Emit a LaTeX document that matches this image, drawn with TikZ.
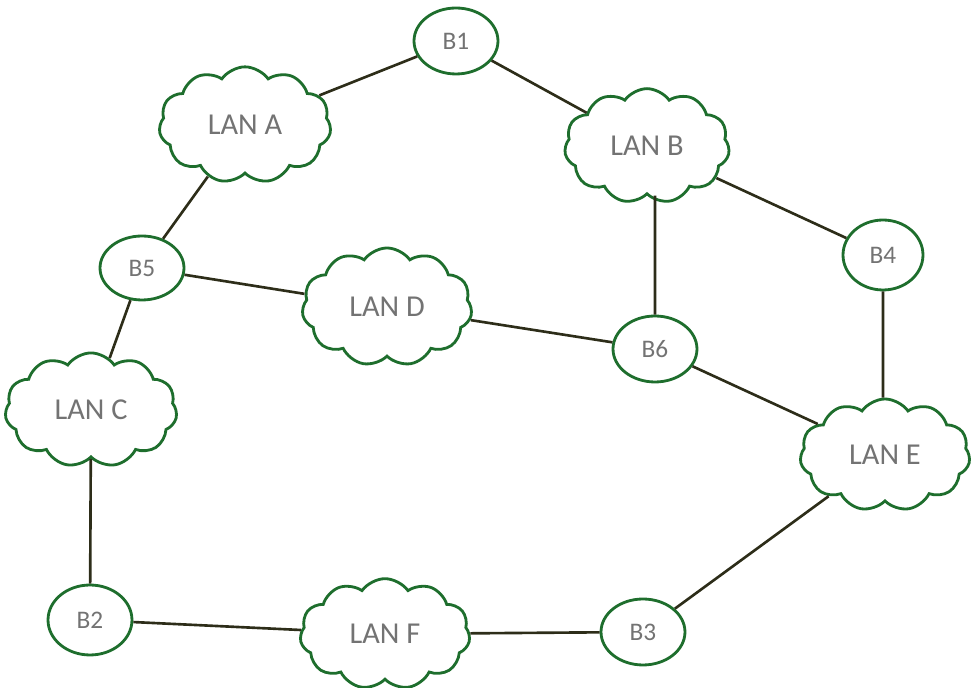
\documentclass[tikz,border=0pt]{standalone}
\usepackage{fontspec}
\setmainfont{Carlito}
\usetikzlibrary{shapes.symbols,shapes.geometric}
\definecolor{bord}{RGB}{30,110,45}
\definecolor{edg}{RGB}{45,45,25}
\begin{document}
\begin{tikzpicture}[x=0.02cm,y=-0.02cm,
 br/.style={ellipse,draw=bord,line width=1.6pt,fill=white,inner sep=0,font=\Large,text=gray!90!black},
 lan/.style={cloud,cloud puffs=11,cloud puff arc=110,draw=bord,line width=1.6pt,fill=white,inner sep=0,font=\LARGE,text=gray!90!black},
 ln/.style={draw=edg,line width=1.5pt}]
\useasboundingbox (0,0) rectangle (975,688);
\node[br,minimum width=1.68cm,minimum height=1.32cm] (B1) at (456,41) {B1};
\node[br,minimum width=1.68cm,minimum height=1.28cm] (B5) at (142,268) {B5};
\node[br,minimum width=1.6cm,minimum height=1.4cm] (B4) at (883,255) {B4};
\node[br,minimum width=1.68cm,minimum height=1.32cm] (B6) at (655,349) {B6};
\node[br,minimum width=1.68cm,minimum height=1.4cm] (B2) at (90,620) {B2};
\node[br,minimum width=1.68cm,minimum height=1.32cm] (B3) at (643,632) {B3};
\node[lan,minimum width=3.44cm,minimum height=1.8cm] (A) at (245,125) {LAN A};
\node[lan,minimum width=3.3cm,minimum height=1.84cm] (LB) at (647,146) {LAN B};
\node[lan,minimum width=3.4cm,minimum height=1.8cm] (D) at (387,307) {LAN D};
\node[lan,minimum width=3.44cm,minimum height=1.8cm] (C) at (91,410) {LAN C};
\node[lan,minimum width=3.4cm,minimum height=1.9cm] (E) at (885,455) {LAN E};
\node[lan,minimum width=3.4cm,minimum height=1.8cm] (F) at (385,634) {LAN F};
\path[ln] (B1) -- (A) (B1) -- (LB) (A) -- (B5) (B5) -- (D) (D) -- (B6)
 (LB.south -| B6) -- (B6) (LB) -- (B4) (B4.south) -- (B4.south |- E.north) (B6) -- (E)
 (B5) -- (C) (C) -- (B2) (B2) -- (F) (F) -- (B3) (B3) -- (E);
\end{tikzpicture}
\end{document}
